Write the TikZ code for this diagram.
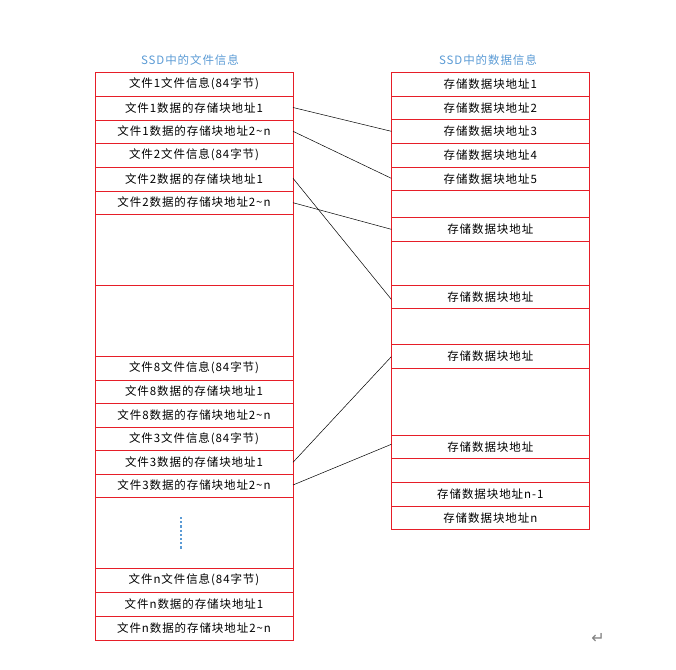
\documentclass[tikz,border=0pt]{standalone}
\usepackage{fontspec}
\setmainfont{Noto Sans CJK SC}
\newfontfamily\djv{DejaVu Sans}
\newfontfamily\wide[LetterSpace=8]{Noto Sans CJK SC}
\begin{document}
\begin{tikzpicture}[x=1pt,y=-1pt,
 cell/.style={draw={rgb,255:red,230;green,30;blue,40},line width=0.6pt},
 lbl/.style={font=\wide\fontsize{11.5}{12}\selectfont,inner sep=0pt},
 ttl/.style={font=\wide\fontsize{11.5}{12}\selectfont,text={rgb,255:red,91;green,155;blue,213}},
 link/.style={draw=black,line width=0.5pt}]
\useasboundingbox (0,0) rectangle (676,669);
\node[ttl] (tl) at (190,60) {SSD中的文件信息};
\node[ttl] (tr) at (488,60) {SSD中的数据信息};
\foreach \a/\b/\t [count=\i] in {72/96/文件1文件信息(84字节),96/120/文件1数据的存储块地址1,120/143/文件1数据的存储块地址2\textasciitilde n,143/167/文件2文件信息(84字节),167/191/文件2数据的存储块地址1,191/214/文件2数据的存储块地址2\textasciitilde n,214/285/,285/356/,356/380/文件8文件信息(84字节),380/403/文件8数据的存储块地址1,403/427/文件8数据的存储块地址2\textasciitilde n,427/450/文件3文件信息(84字节),450/474/文件3数据的存储块地址1,474/497/文件3数据的存储块地址2\textasciitilde n,497/568/,568/592/文件n文件信息(84字节),592/616/文件n数据的存储块地址1,616/640/文件n数据的存储块地址2\textasciitilde n}{
 \draw[cell] (95,\a) rectangle (293,\b);
 \node[lbl] (L\i) at (194,{(\a+\b)/2}) {\t};
}
\foreach \a/\b/\t [count=\i] in {72.7/96/存储数据块地址1,96/119.7/存储数据块地址2,119.7/143.3/存储数据块地址3,143.3/167/存储数据块地址4,167/190.3/存储数据块地址5,190.3/217.7/,217.7/241.3/存储数据块地址,241.3/285.3/,285.3/308.7/存储数据块地址,308.7/344.7/,344.7/368/存储数据块地址,368/435.3/,435.3/458.7/存储数据块地址,458.7/482.7/,482.7/506/存储数据块地址n-1,506/529.3/存储数据块地址n}{
 \draw[cell] (391.3,\a) rectangle (589.3,\b);
 \node[lbl] (R\i) at (490.3,{(\a+\b)/2}) {\t};
}
\coordinate (a1) at (293,107.5); \coordinate (b1) at (391.3,131.3);
\coordinate (a2) at (293,131.3); \coordinate (b2) at (391.3,178.3);
\coordinate (a3) at (293,178.3); \coordinate (b3) at (391.3,299.3);
\coordinate (a4) at (293,202.7); \coordinate (b4) at (391.3,229.3);
\coordinate (a5) at (293,462.3); \coordinate (b5) at (391.3,356.7);
\coordinate (a6) at (293,485);   \coordinate (b6) at (391.3,444.3);
\foreach \k in {1,...,6}{\draw[link] (a\k) -- (b\k);}
\draw[line width=2.2pt,dash pattern=on 2.2pt off 2pt,draw={rgb,255:red,91;green,155;blue,213}] (181,517) -- (181,549);
\node[font=\djv\fontsize{16}{16}\selectfont,text=gray] (ret) at (598,638) {↵};
\end{tikzpicture}
\end{document}
